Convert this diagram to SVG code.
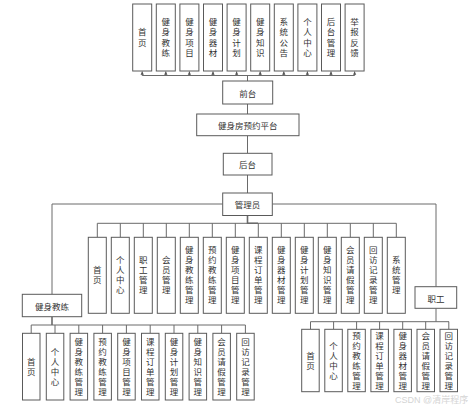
<svg xmlns="http://www.w3.org/2000/svg" width="474" height="405" viewBox="0 0 474 405">
<defs>
<style>
.b{fill:#fff;stroke:#5a5a5a;stroke-width:1}
.t{font-family:"Noto Sans CJK SC","Noto Sans",sans-serif;font-size:8.5px;fill:#333;text-anchor:middle;dominant-baseline:central}
.v{font-family:"Noto Sans CJK SC","Noto Sans",sans-serif;font-size:8.5px;fill:#333;text-anchor:middle;writing-mode:vertical-rl;letter-spacing:1.5px}
.vt{letter-spacing:2px}
.c{fill:none;stroke:#6a6a6a;stroke-width:1}
.wm{font-family:"Liberation Sans","Noto Sans CJK SC",sans-serif;font-size:9px;fill:#d4d4d4}
</style>
<marker id="ah" viewBox="0 0 6 6" refX="5" refY="3" markerWidth="4" markerHeight="4" orient="auto">
<path d="M0,0.5 L5,3 L0,5.5 Z" fill="#555"/>
</marker>
</defs>
<rect width="474" height="405" fill="#fff"/>
<g id="connectors">
<path class="c" d="M142.2,75.5 H354.6 M247.5,75.5 V81"/>
<line class="c" x1="142.2" y1="75.5" x2="142.2" y2="71.5" marker-end="url(#ah)"/>
<line class="c" x1="165.8" y1="75.5" x2="165.8" y2="71.5" marker-end="url(#ah)"/>
<line class="c" x1="189.4" y1="75.5" x2="189.4" y2="71.5" marker-end="url(#ah)"/>
<line class="c" x1="213" y1="75.5" x2="213" y2="71.5" marker-end="url(#ah)"/>
<line class="c" x1="236.6" y1="75.5" x2="236.6" y2="71.5" marker-end="url(#ah)"/>
<line class="c" x1="260.2" y1="75.5" x2="260.2" y2="71.5" marker-end="url(#ah)"/>
<line class="c" x1="283.8" y1="75.5" x2="283.8" y2="71.5" marker-end="url(#ah)"/>
<line class="c" x1="307.4" y1="75.5" x2="307.4" y2="71.5" marker-end="url(#ah)"/>
<line class="c" x1="331" y1="75.5" x2="331" y2="71.5" marker-end="url(#ah)"/>
<line class="c" x1="354.6" y1="75.5" x2="354.6" y2="71.5" marker-end="url(#ah)"/>
<path class="c" d="M247.5,104 V114 M247.5,135.7 V153.3 M247.5,175 V193"/>
<path class="c" style="stroke-width:1.6" d="M247.5,215.5 V223.3 H258"/>
<path class="c" d="M97.3,223.3 H396.3 M97.3,223.3 V237.3 M120.3,223.3 V237.3 M143.3,223.3 V237.3 M166.3,223.3 V237.3 M189.3,223.3 V237.3 M212.3,223.3 V237.3 M235.3,223.3 V237.3 M258.3,223.3 V237.3 M281.3,223.3 V237.3 M304.3,223.3 V237.3 M327.3,223.3 V237.3 M350.3,223.3 V237.3 M373.3,223.3 V237.3 M396.3,223.3 V237.3"/>
<path class="c" d="M222.7,204 H52 V294.3 M272.3,204 H436 V286.7"/>
<path class="c" style="stroke-width:1.6" d="M52,316.7 V325"/>
<path class="c" d="M31.2,325 H245.4 M31.2,325 V333.3 M55,325 V333.3 M78.8,325 V333.3 M102.6,325 V333.3 M126.4,325 V333.3 M150.2,325 V333.3 M174,325 V333.3 M197.8,325 V333.3 M221.6,325 V333.3 M245.4,325 V333.3"/>
<path class="c" d="M436,308.3 V321.7 M310.5,321.7 H449 M310.5,321.7 V329.3 M333.6,321.7 V329.3 M356.6,321.7 V329.3 M379.6,321.7 V329.3 M402.7,321.7 V329.3 M425.7,321.7 V329.3 M448.8,321.7 V329.3"/>
</g>
<g id="n_top1"><rect class="b" x="132.7" y="4" width="19" height="67"/><text class="v vt" x="142.2" y="38.5">首页</text></g>
<g id="n_top2"><rect class="b" x="156.3" y="4" width="19" height="67"/><text class="v vt" x="165.8" y="38.5">健身教练</text></g>
<g id="n_top3"><rect class="b" x="179.9" y="4" width="19" height="67"/><text class="v vt" x="189.4" y="38.5">健身项目</text></g>
<g id="n_top4"><rect class="b" x="203.5" y="4" width="19" height="67"/><text class="v vt" x="213" y="38.5">健身器材</text></g>
<g id="n_top5"><rect class="b" x="227.1" y="4" width="19" height="67"/><text class="v vt" x="236.6" y="38.5">健身计划</text></g>
<g id="n_top6"><rect class="b" x="250.7" y="4" width="19" height="67"/><text class="v vt" x="260.2" y="38.5">健身知识</text></g>
<g id="n_top7"><rect class="b" x="274.3" y="4" width="19" height="67"/><text class="v vt" x="283.8" y="38.5">系统公告</text></g>
<g id="n_top8"><rect class="b" x="297.9" y="4" width="19" height="67"/><text class="v vt" x="307.4" y="38.5">个人中心</text></g>
<g id="n_top9"><rect class="b" x="321.5" y="4" width="19" height="67"/><text class="v vt" x="331" y="38.5">后台管理</text></g>
<g id="n_top10"><rect class="b" x="345.1" y="4" width="19" height="67"/><text class="v vt" x="354.6" y="38.5">举报反馈</text></g>
<g id="n_qiantai"><rect class="b" x="222.7" y="81" width="50" height="23"/><text class="t" x="247.7" y="92.5">前台</text></g>
<g id="n_platform"><rect class="b" x="196.7" y="114" width="102.3" height="21.7"/><text class="t" x="247.8" y="124.9">健身房预约平台</text></g>
<g id="n_houtai"><rect class="b" x="223.3" y="153.3" width="48.7" height="21.7"/><text class="t" x="247.6" y="164.2">后台</text></g>
<g id="n_admin"><rect class="b" x="222.7" y="193" width="49.6" height="22.5"/><text class="t" x="247.5" y="204.3">管理员</text></g>
<g id="n_coach"><rect class="b" x="22.3" y="294.3" width="59.4" height="22.4"/><text class="t" x="52" y="305.5">健身教练</text></g>
<g id="n_staff"><rect class="b" x="415" y="286.7" width="41.7" height="21.6"/><text class="t" x="435.9" y="297.5">职工</text></g>
<g id="n_a1"><rect class="b" x="88.3" y="237.3" width="18" height="76"/><text class="v" x="97.3" y="276">首页</text></g>
<g id="n_a2"><rect class="b" x="111.3" y="237.3" width="18" height="76"/><text class="v" x="120.3" y="276">个人中心</text></g>
<g id="n_a3"><rect class="b" x="134.3" y="237.3" width="18" height="76"/><text class="v" x="143.3" y="276">职工管理</text></g>
<g id="n_a4"><rect class="b" x="157.3" y="237.3" width="18" height="76"/><text class="v" x="166.3" y="276">会员管理</text></g>
<g id="n_a5"><rect class="b" x="180.3" y="237.3" width="18" height="76"/><text class="v" x="189.3" y="276">健身教练管理</text></g>
<g id="n_a6"><rect class="b" x="203.3" y="237.3" width="18" height="76"/><text class="v" x="212.3" y="276">预约教练管理</text></g>
<g id="n_a7"><rect class="b" x="226.3" y="237.3" width="18" height="76"/><text class="v" x="235.3" y="276">健身项目管理</text></g>
<g id="n_a8"><rect class="b" x="249.3" y="237.3" width="18" height="76"/><text class="v" x="258.3" y="276">课程订单管理</text></g>
<g id="n_a9"><rect class="b" x="272.3" y="237.3" width="18" height="76"/><text class="v" x="281.3" y="276">健身器材管理</text></g>
<g id="n_a10"><rect class="b" x="295.3" y="237.3" width="18" height="76"/><text class="v" x="304.3" y="276">健身计划管理</text></g>
<g id="n_a11"><rect class="b" x="318.3" y="237.3" width="18" height="76"/><text class="v" x="327.3" y="276">健身知识管理</text></g>
<g id="n_a12"><rect class="b" x="341.3" y="237.3" width="18" height="76"/><text class="v" x="350.3" y="276">会员请假管理</text></g>
<g id="n_a13"><rect class="b" x="364.3" y="237.3" width="18" height="76"/><text class="v" x="373.3" y="276">回访记录管理</text></g>
<g id="n_a14"><rect class="b" x="387.3" y="237.3" width="18" height="76"/><text class="v" x="396.3" y="276">系统管理</text></g>
<g id="n_c1"><rect class="b" x="22.5" y="333.3" width="17.5" height="66.7"/><text class="v" x="31.2" y="367.4">首页</text></g>
<g id="n_c2"><rect class="b" x="46.3" y="333.3" width="17.5" height="66.7"/><text class="v" x="55" y="367.4">个人中心</text></g>
<g id="n_c3"><rect class="b" x="70.1" y="333.3" width="17.5" height="66.7"/><text class="v" x="78.8" y="367.4">健身教练管理</text></g>
<g id="n_c4"><rect class="b" x="93.9" y="333.3" width="17.5" height="66.7"/><text class="v" x="102.6" y="367.4">预约教练管理</text></g>
<g id="n_c5"><rect class="b" x="117.7" y="333.3" width="17.5" height="66.7"/><text class="v" x="126.4" y="367.4">健身项目管理</text></g>
<g id="n_c6"><rect class="b" x="141.5" y="333.3" width="17.5" height="66.7"/><text class="v" x="150.2" y="367.4">课程订单管理</text></g>
<g id="n_c7"><rect class="b" x="165.3" y="333.3" width="17.5" height="66.7"/><text class="v" x="174" y="367.4">健身计划管理</text></g>
<g id="n_c8"><rect class="b" x="189.1" y="333.3" width="17.5" height="66.7"/><text class="v" x="197.8" y="367.4">健身知识管理</text></g>
<g id="n_c9"><rect class="b" x="212.9" y="333.3" width="17.5" height="66.7"/><text class="v" x="221.6" y="367.4">会员请假管理</text></g>
<g id="n_c10"><rect class="b" x="236.7" y="333.3" width="17.5" height="66.7"/><text class="v" x="245.4" y="367.4">回访记录管理</text></g>
<g id="n_s1"><rect class="b" x="301.7" y="329.3" width="17.5" height="62.4"/><text class="v" x="310.5" y="361.7">首页</text></g>
<g id="n_s2"><rect class="b" x="324.8" y="329.3" width="17.5" height="62.4"/><text class="v" x="333.6" y="361.7">个人中心</text></g>
<g id="n_s3"><rect class="b" x="347.8" y="329.3" width="17.5" height="62.4"/><text class="v" x="356.6" y="361.7">预约教练管理</text></g>
<g id="n_s4"><rect class="b" x="370.9" y="329.3" width="17.5" height="62.4"/><text class="v" x="379.6" y="361.7">课程订单管理</text></g>
<g id="n_s5"><rect class="b" x="393.9" y="329.3" width="17.5" height="62.4"/><text class="v" x="402.7" y="361.7">健身器材管理</text></g>
<g id="n_s6"><rect class="b" x="417" y="329.3" width="17.5" height="62.4"/><text class="v" x="425.7" y="361.7">会员请假管理</text></g>
<g id="n_s7"><rect class="b" x="440" y="329.3" width="17.5" height="62.4"/><text class="v" x="448.8" y="361.7">回访记录管理</text></g>
<text class="wm" x="395" y="403">CSDN @清岸程序</text>
</svg>
